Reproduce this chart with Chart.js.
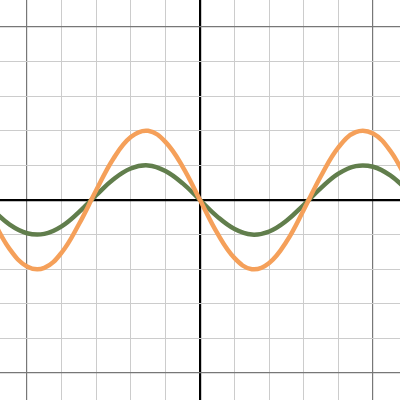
<!DOCTYPE html>
<html><head><meta charset="utf-8">
<script src="https://cdn.jsdelivr.net/npm/chart.js@4"></script>
<style>html,body{margin:0;padding:0;background:#fff}#w{width:400px;height:400px}</style>
</head><body><div id="w"><canvas id="c"></canvas></div>
<script>
const xs = [-6,-5.5,-5,-4.5,-4,-3.5,-3,-2.5,-2,-1.5,-1,-0.5,0,0.5,1,1.5,2,2.5,3,3.5,4,4.5,5,5.5,6];
const greenY = [-0.28,-0.71,-0.96,-0.98,-0.76,-0.35,0.14,0.6,0.91,1.0,0.84,0.48,0,-0.48,-0.84,-1.0,-0.91,-0.6,-0.14,0.35,0.76,0.98,0.96,0.71,0.28];
const orangeY = [-0.56,-1.42,-1.92,-1.96,-1.52,-0.7,0.28,1.2,1.82,2.0,1.68,0.96,0,-0.96,-1.68,-2.0,-1.82,-1.2,-0.28,0.7,1.52,1.96,1.92,1.42,0.56];
const gridTicks = [-5,-4,-3,-2,-1,0,1,2,3,4,5];
const pts = ys => xs.map((x,i)=>({x, y: ys[i]}));
const gridColor = c => c.tick.value===0 ? '#000' : (Math.abs(c.tick.value)%5===0 ? '#777' : '#cccccc');
const gridWidth = c => c.tick.value===0 ? 2.2 : (Math.abs(c.tick.value)%5===0 ? 1.2 : 1);
const mkAxis = () => ({
  type:'linear', min:-5.78, max:5.78,
  ticks:{display:false},
  afterBuildTicks: s => { s.ticks = gridTicks.map(v=>({value:v})); },
  grid:{color:gridColor, lineWidth:gridWidth, drawTicks:false},
  border:{display:false}
});
new Chart(document.getElementById('c'), {
  type:'scatter',
  data:{datasets:[
    {data:pts(orangeY), showLine:true, borderColor:'#f5a05a', borderWidth:4.5, pointRadius:0, tension:0.4},
    {data:pts(greenY), showLine:true, borderColor:'#617e4c', borderWidth:4.5, pointRadius:0, tension:0.4}
  ]},
  options:{
    responsive:true, maintainAspectRatio:false, animation:false,
    layout:{padding:0},
    plugins:{legend:{display:false}, tooltip:{enabled:false}},
    scales:{x:mkAxis(), y:mkAxis()}
  }
});
</script></body></html>
